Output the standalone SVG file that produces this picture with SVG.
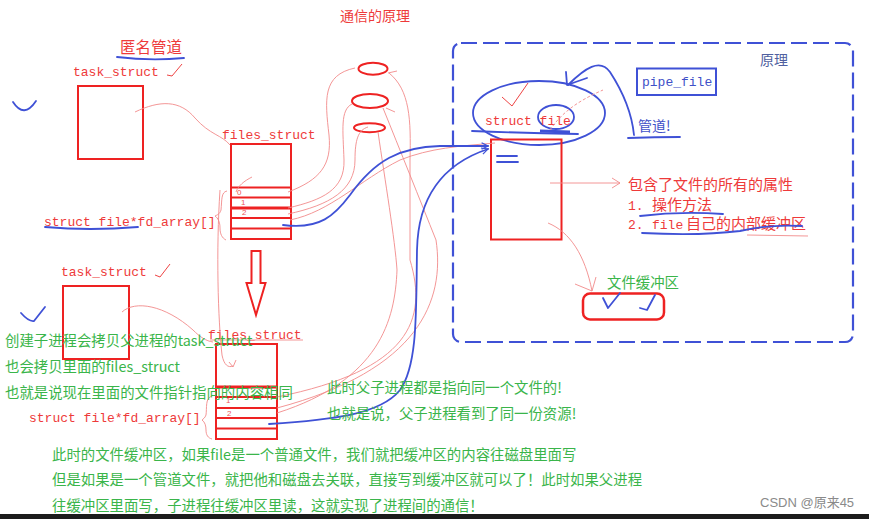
<svg xmlns="http://www.w3.org/2000/svg" width="869" height="519" viewBox="0 0 869 519">
<style>
.box{fill:none;stroke:#ee2222;stroke-width:2}
.mono{font-family:"Liberation Mono",monospace;font-size:13px;fill:#ee3a3a}
.cjk{font-family:"Noto Sans CJK SC",sans-serif}
.red{fill:#ee3a3a}
.green{font-family:"Noto Sans CJK SC",sans-serif;font-size:14.4px;fill:#3ab54a}
.blue{fill:none;stroke:#3f51d6;stroke-width:1.8;stroke-linecap:round;stroke-linejoin:round}
.pink{fill:none;stroke:#f28a8a;stroke-width:0.9}
.thin{fill:none;stroke:#ee4444;stroke-width:1}
</style>
<defs>
<marker id="bh" viewBox="0 0 10 10" refX="9" refY="5" markerWidth="8" markerHeight="8" orient="auto" markerUnits="userSpaceOnUse">
<path d="M1,1 L9,5 L1,9" fill="none" stroke="#3f51d6" stroke-width="1.5"/>
</marker>
</defs>
<rect width="869" height="519" fill="#ffffff"/>

<g id="title">
<text x="340" y="21" class="cjk red" font-size="14">通信的原理</text>
<text x="120" y="53" class="cjk red" font-size="15.5">匿名管道</text>
<path class="blue" d="M117,57 Q150,61 184,58"/>
</g>

<g id="marks">
<path class="blue" d="M13,102 Q24,119 36,101"/>
<path class="blue" d="M21,313 Q29,322 34,321 L45,307"/>
<path class="thin" d="M167,75 L172,76 L182,64"/>
<path class="thin" d="M155,275 L160,277 L170,264"/>
</g>

<g id="task_struct_parent">
<text x="73" y="76" class="mono">task_struct</text>
<rect x="78" y="86" width="65" height="73" class="box"/>
</g>

<g id="files_struct_parent">
<text x="222" y="139" class="mono">files_struct</text>
<rect x="231" y="144" width="60" height="95" class="box"/>
<path class="box" d="M231,187.5 H291 M231,197.5 H291 M231,208 H291 M231,218 H291 M231,228.5 H291"/>
<path d="M231,208 H291" stroke="#ee2222" stroke-width="3"/>
<text x="237" y="195" font-family="Liberation Sans,sans-serif" font-size="8" fill="#ee5555">0</text>
<text x="241" y="205" font-family="Liberation Sans,sans-serif" font-size="8" fill="#ee5555">1</text>
<text x="242" y="215" font-family="Liberation Sans,sans-serif" font-size="8" fill="#ee5555">2</text>
<path class="pink" d="M252,177 C244,181 238,186 236,192"/>
<path class="pink" d="M227,191 C221,192 222,200 221,210 C220,214 217,215 215,216 C218,218 220,222 220,228 C220,234 222,238 226,240"/>
<text x="44" y="226" class="mono">struct file*fd_array[]</text>
<path class="blue" d="M45,227 Q90,231 138,227"/>
</g>

<g id="fork_arrow">
<polygon points="251.5,251 260.5,251 260.5,283 265.5,283 256,315 246.5,283 251.5,283" fill="none" stroke="#ee2222" stroke-width="2"/>
</g>

<g id="task_struct_child">
<text x="61" y="276" class="mono">task_struct</text>
<rect x="63" y="286" width="66" height="73" class="box"/>
</g>

<g id="files_struct_child">
<text x="208" y="339" class="mono">files_struct</text>
<path class="pink" d="M210,340 H303"/>
<rect x="216" y="344" width="61" height="95" class="box"/>
<path class="box" d="M216,397 H277 M216,408 H277 M216,418 H277 M216,428.5 H277"/>
<path d="M216,387 H277" stroke="#ee2222" stroke-width="3"/>
<text x="226" y="403" font-family="Liberation Sans,sans-serif" font-size="8" fill="#ee5555">1</text>
<text x="227" y="416" font-family="Liberation Sans,sans-serif" font-size="8" fill="#ee5555">2</text>
<path class="pink" d="M212,396 C205,398 207,408 206,415 C205,418 203,419 202,420 C205,422 206,426 206,430 C206,435 208,438 212,439"/>
<text x="29" y="422" class="mono">struct file*fd_array[]</text>
</g>

<g id="pipe_ellipses">
<ellipse cx="373" cy="68.7" rx="14.5" ry="6" fill="none" stroke="#ee2222" stroke-width="2"/>
<ellipse cx="370" cy="101" rx="18" ry="7" fill="none" stroke="#ee2222" stroke-width="2"/>
<ellipse cx="369.5" cy="127.7" rx="15.5" ry="4.5" fill="none" stroke="#ee2222" stroke-width="2"/>
</g>

<g id="principle_box">
<rect x="453" y="43" width="400" height="299" rx="8" fill="none" stroke="#3f51d6" stroke-width="2.2" stroke-dasharray="16 6"/>
<text x="760" y="65" class="cjk" font-size="14" fill="#5060a0">原理</text>
</g>

<g id="pipe_file">
<rect x="637" y="68.5" width="79" height="26.5" fill="none" stroke="#3f51d6" stroke-width="2"/>
<text x="642" y="86" font-family="Liberation Mono,monospace" font-size="13" fill="#4050c8">pipe_file</text>
<text x="638" y="131" class="cjk" font-size="14" fill="#4050c8">管道!</text>
<path class="blue" d="M628,138 Q655,137 680,137"/>
<path class="blue" d="M634,135 C632,115 625,95 610,72 C600,58 585,68 568,85"/>
<path class="blue" d="M566,72 L567,85 L587,78"/>
</g>

<g id="struct_file">
<ellipse cx="539" cy="113" rx="66" ry="32" fill="none" stroke="#3f51d6" stroke-width="1.8"/>
<ellipse cx="556" cy="117" rx="18" ry="12" fill="none" stroke="#3f51d6" stroke-width="1.8"/>
<path class="thin" d="M502,97 L512,106 L528,83"/>
<text x="485" y="125" class="mono">struct file</text>
<path class="blue" d="M472,131 Q525,133 578,134"/>
<path d="M540,131 L570,132" stroke="#3f51d6" stroke-width="3"/>
<path class="pink" stroke-dasharray="3 2" d="M550,130 C560,115 575,102 603,90"/>
<rect x="491" y="139.5" width="70.5" height="100" class="box"/>
<path class="blue" d="M497,156 H517 M497,162 H518"/>
</g>

<g id="attributes">
<text x="628" y="190" class="cjk red" font-size="15">包含了文件的所有的属性</text>
<text x="628" y="210" class="mono" font-size="14">1.</text>
<text x="652" y="210" class="cjk red" font-size="15">操作方法</text>
<path class="blue" d="M640,216 Q680,211 723,214"/>
<text x="628" y="229" class="mono" font-size="14">2.</text>
<text x="652" y="229" class="mono" font-size="14">file</text>
<text x="686" y="229" class="cjk red" font-size="15">自己的内部缓冲区</text>
<path class="blue" d="M642,233 Q700,236 740,231 Q770,224 802,226"/>
<path class="pink" d="M747,235 L808,236"/>
</g>

<g id="file_buffer">
<text x="607" y="288" class="cjk" font-size="14.4" fill="#3ab54a">文件缓冲区</text>
<rect x="583" y="293.5" width="81" height="26" rx="7" fill="none" stroke="#ee2222" stroke-width="2.5"/>
<path class="blue" d="M603,298 L608,308 L620,293"/>
<path class="blue" d="M640,308 L647,310 L655,295"/>
</g>

<g id="connectors">
<path class="pink" d="M135,112 C160,100 180,100 195,118 C210,135 222,135 230,145"/>
<path class="pink" d="M122,312 C135,300 165,305 193,330 C200,337 206,341 213,342"/>
<path class="pink" d="M220,190 C216,250 218,320 222,355 C224,365 228,368 233,366 M229,362 L233,367 L236,360"/>
<path class="pink" d="M288,192 C320,180 332,165 329,135 C325,100 322,75 355,68"/>
<path class="pink" d="M388,73 L397,71 M386,108 L395,112"/>
<path class="pink" d="M288,208 C322,200 345,190 344,160 C343,130 340,110 352,104"/>
<path class="pink" d="M288,214 C330,205 355,190 355,160 C355,140 358,130 368,127"/>
<path class="pink" d="M290,220 C330,212 360,180 400,160 C430,148 460,146 495,143"/>
<path class="pink" d="M389,73 C410,90 411,120 410,160 L410,260 C428,320 410,370 277,397"/>
<path class="pink" d="M383,108 C400,150 420,200 436,240 C445,300 420,370 277,408"/>
<path class="pink" d="M378,132 C385,180 395,240 397,270 C395,320 380,380 277,413"/>
<path class="pink" d="M550,183 L620,183 M612,178 L620,183 L612,188"/>
<path class="pink" d="M548,223 C570,232 585,255 592,291 M575,284 L592,291 L596,277"/>
<path class="blue" marker-end="url(#bh)" d="M283,225 C320,230 335,215 350,195 C375,160 400,147 440,146 L488,146"/>
<path class="blue" marker-end="url(#bh)" d="M269,424 C330,420 380,415 400,390 C418,365 416,310 417,250 C418,200 440,165 488,149"/>
</g>

<g id="notes">
<text x="5" y="346" class="green">创建子进程会拷贝父进程的task_struct</text>
<text x="5" y="372" class="green">也会拷贝里面的files_struct</text>
<text x="5" y="398" class="green">也就是说现在里面的文件指针指向的内容相同</text>
<text x="327" y="393" class="green">此时父子进程都是指向同一个文件的!</text>
<text x="327" y="419" class="green">也就是说，父子进程看到了同一份资源!</text>
<text x="52" y="460" class="green">此时的文件缓冲区，如果file是一个普通文件，我们就把缓冲区的内容往磁盘里面写</text>
<text x="52" y="485" class="green">但是如果是一个管道文件，就把他和磁盘去关联，直接写到缓冲区就可以了！此时如果父进程</text>
<text x="52" y="511" class="green">往缓冲区里面写，子进程往缓冲区里读，这就实现了进程间的通信！</text>
</g>

<g id="watermark">
<text x="760" y="507" font-family="Liberation Sans,Noto Sans CJK SC,sans-serif" font-size="13" fill="#8a8a8a">CSDN @原来45</text>
</g>
<rect x="0" y="514" width="869" height="5" fill="#1c1c1c"/>
</svg>
